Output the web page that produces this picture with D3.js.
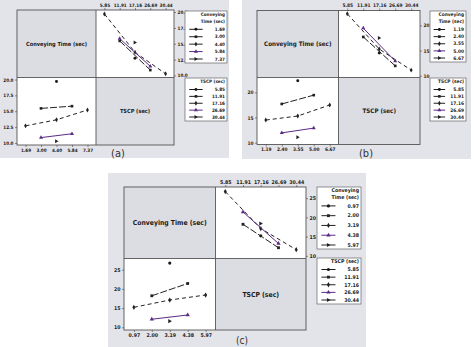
<!DOCTYPE html>
<html><head><meta charset="utf-8">
<script src="https://cdn.jsdelivr.net/npm/d3@7"></script>
<style>
html,body{margin:0;padding:0;background:#fff;}
svg{display:block;}
text{font-family:"DejaVu Sans Condensed","DejaVu Sans",sans-serif;}
</style></head>
<body>
<svg id="chart" width="474" height="347"></svg>
<script>
// ---------------- data ----------------
const tscpLevels = ["5.85", "11.91", "17.16", "26.69", "30.44"];
const ctLevelsA = ["1.69", "3.00", "4.40", "5.84", "7.37"];
const ctLevelsB = ["1.19", "2.40", "3.55", "5.00", "6.67"];
const ctLevelsC = ["0.97", "2.00", "3.19", "4.38", "5.97"];
// mean response: rows = TSCP level, columns = conveying time level (null = not run)
const meansA = [
  [null, null, 19.7, null, null],
  [null, 15.45, null, 15.8, null],
  [12.7, null, 13.65, null, 15.2],
  [null, 10.85, null, 11.45, null],
  [null, null, 10.27, null, null]
];
const meansB = [
  [null, null, 22.3, null, null],
  [null, 17.7, null, 19.45, null],
  [14.5, null, 15.3, null, 17.5],
  [null, 11.95, null, 12.9, null],
  [null, null, 11.1, null, null]
];
const meansC = [
  [null, null, 26.7, null, null],
  [null, 18.2, null, 21.4, null],
  [15.2, null, 17.1, null, 18.4],
  [null, 12.1, null, 13.2, null],
  [null, null, 11.6, null, null]
];
const yTicksA = [10, 12.5, 15, 17.5, 20];
const yTickLabelsA = ["10.0", "12.5", "15.0", "17.5", "20.0"];
const yTicksB = [10, 15, 20];
const yTickLabelsB = ["10", "15", "20"];
const yTicksC = [10, 15, 20, 25];
const yTickLabelsC = ["10", "15", "20", "25"];
const factorNames = ["Conveying Time (sec)", "TSCP (sec)"];
const legendTitleCT = ["Conveying", "Time (sec)"];
const legendTitleTSCP = ["TSCP (sec)"];
const panelLabels = ["(a)", "(b)", "(c)"];

// ---------------- styles ----------------
const seriesStyle = [
  {sym: d3.symbolCircle, color: "#1a1a1a", dash: null},
  {sym: d3.symbolSquare, color: "#222222", dash: "7,2"},
  {sym: d3.symbolDiamond, color: "#222222", dash: "4,3"},
  {sym: d3.symbolTriangle, color: "#5b2a86", dash: null},
  {sym: "right", color: "#222222", dash: "3,2"}
];
function markerPath(s, size) {
  if (s === "right") {
    const r = Math.sqrt(size) * 0.75;
    return `M${-r * 0.7},${-r}L${r},0L${-r * 0.7},${r}Z`;
  }
  return d3.symbol().type(s).size(size)();
}

const svg = d3.select("#chart");

const layouts = [
  {outer: [0, 0, 229, 158], x0: 17, x1: 174, y0: 10, y1: 145, mx: 96, my: 77.5,
   lx0: 185, lx1: 227, l1: [11, 63], l2: [78, 121], lab: [118, 153],
   tick: 4.6, title: 5.6, msize: 7},
  {outer: [242, 0, 471, 159], x0: 257, x1: 420, y0: 10.5, y1: 144.5, mx: 338.5, my: 77.5,
   lx0: 430, lx1: 466, l1: [11, 62], l2: [78, 121], lab: [366, 153],
   tick: 4.8, title: 6.2, msize: 7},
  {outer: [108, 173, 366, 347], x0: 124, x1: 306, y0: 187, y1: 330, mx: 215.5, my: 258.5,
   lx0: 317, lx1: 361, l1: [187, 249], l2: [258, 304], lab: [242, 340],
   tick: 5.2, title: 6.8, msize: 8}
];
const panels = [
  {ct: ctLevelsA, means: meansA, yt: yTicksA, yl: yTickLabelsA, dom: [9.68, 20.32]},
  {ct: ctLevelsB, means: meansB, yt: yTicksB, yl: yTickLabelsB, dom: [9.64, 22.96]},
  {ct: ctLevelsC, means: meansC, yt: yTicksC, yl: yTickLabelsC, dom: [9.3, 27.9]}
];

function drawSeries(g, pts, x, y, st, msize) {
  const line = d3.line().x(d => x(d.k)).y(d => y(d.v));
  if (pts.length > 1) {
    g.append("path").attr("d", line(pts)).attr("fill", "none")
      .attr("stroke", st.color).attr("stroke-width", 1)
      .attr("stroke-dasharray", st.dash);
  }
  pts.forEach(p => {
    g.append("path").attr("d", markerPath(st.sym, msize))
      .attr("transform", `translate(${x(p.k)},${y(p.v)})`)
      .attr("fill", st.color);
  });
}

function styleAxis(a, fs) {
  a.select(".domain").remove();
  a.selectAll("line").attr("stroke", "#444").attr("stroke-width", 0.6);
  a.selectAll("text").attr("font-size", fs).attr("font-weight", "bold").attr("fill", "#222")
    .attr("font-family", '"DejaVu Sans Condensed","DejaVu Sans",sans-serif');
}

function drawLegend(g, L, yr, titleLines, labels) {
  const [ya, yb] = yr;
  g.append("rect").attr("x", L.lx0).attr("y", ya).attr("width", L.lx1 - L.lx0)
    .attr("height", yb - ya).attr("fill", "#fff").attr("stroke", "#666").attr("stroke-width", 0.7);
  const fs = L.tick;
  titleLines.forEach((t, i) => {
    g.append("text").attr("x", L.lx1 - 2).attr("y", ya + 5 + i * (fs + 2.2))
      .attr("text-anchor", "end").attr("font-size", fs).attr("font-weight", "bold")
      .attr("fill", "#222").text(t);
  });
  const top = ya + 5 + (titleLines.length - 1) * (fs + 2.2) + 6.5;
  const step = (yb - 4 - top) / (labels.length - 1);
  const w = L.lx1 - L.lx0;
  labels.forEach((lab, i) => {
    const yy = top + i * step;
    const st = seriesStyle[i];
    const sx0 = L.lx0 + w * 0.1, sx1 = L.lx0 + w * 0.42;
    g.append("line").attr("x1", sx0).attr("x2", sx1).attr("y1", yy).attr("y2", yy)
      .attr("stroke", st.color).attr("stroke-width", 1);
    g.append("path").attr("d", markerPath(st.sym, L.msize))
      .attr("transform", `translate(${(sx0 + sx1) / 2},${yy})`).attr("fill", st.color);
    g.append("text").attr("x", L.lx1 - 2).attr("y", yy).attr("dy", "0.35em")
      .attr("text-anchor", "end").attr("font-size", fs).attr("font-weight", "bold")
      .attr("fill", "#222").text(lab);
  });
}

panels.forEach((P, pi) => {
  const L = layouts[pi];
  const g = svg.append("g");
  const [ox0, oy0, ox1, oy1] = L.outer;
  g.append("rect").attr("x", ox0).attr("y", oy0).attr("width", ox1 - ox0).attr("height", oy1 - oy0)
    .attr("fill", "#e3e3ea");
  // cells
  g.append("rect").attr("x", L.x0).attr("y", L.y0).attr("width", L.mx - L.x0).attr("height", L.my - L.y0)
    .attr("fill", "#dcdce3");
  g.append("rect").attr("x", L.mx).attr("y", L.my).attr("width", L.x1 - L.mx).attr("height", L.y1 - L.my)
    .attr("fill", "#dcdce3");
  g.append("rect").attr("x", L.mx).attr("y", L.y0).attr("width", L.x1 - L.mx).attr("height", L.my - L.y0)
    .attr("fill", "#fff");
  g.append("rect").attr("x", L.x0).attr("y", L.my).attr("width", L.mx - L.x0).attr("height", L.y1 - L.my)
    .attr("fill", "#fff");

  // scales
  const xBL = d3.scalePoint().domain(P.ct).range([L.x0, L.mx]).padding(0.55);
  const yBL = d3.scaleLinear().domain(P.dom).range([L.y1, L.my]);
  const xTR = d3.scalePoint().domain(tscpLevels).range([L.mx, L.x1]).padding(0.55);
  const yTR = d3.scaleLinear().domain(P.dom).range([L.my, L.y0]);

  // bottom-left: response vs conveying time, one line per TSCP level
  P.means.forEach((row, i) => {
    const pts = P.ct.map((c, j) => ({k: c, v: row[j]})).filter(d => d.v !== null);
    drawSeries(g, pts, xBL, yBL, seriesStyle[i], L.msize);
  });
  // top-right: response vs TSCP, one line per conveying time level
  P.ct.forEach((c, j) => {
    const pts = tscpLevels.map((t, i) => ({k: t, v: P.means[i][j]})).filter(d => d.v !== null);
    drawSeries(g, pts, xTR, yTR, seriesStyle[j], L.msize);
  });

  // frame
  g.append("rect").attr("x", L.x0).attr("y", L.y0).attr("width", L.x1 - L.x0).attr("height", L.y1 - L.y0)
    .attr("fill", "none").attr("stroke", "#555").attr("stroke-width", 0.9);
  g.append("line").attr("x1", L.mx).attr("x2", L.mx).attr("y1", L.y0).attr("y2", L.y1)
    .attr("stroke", "#555").attr("stroke-width", 0.9);
  g.append("line").attr("x1", L.x0).attr("x2", L.x1).attr("y1", L.my).attr("y2", L.my)
    .attr("stroke", "#555").attr("stroke-width", 0.9);

  // axes
  const ts = 2;
  const aB = g.append("g").attr("transform", `translate(0,${L.y1})`)
    .call(d3.axisBottom(xBL).tickSize(ts).tickPadding(1.5));
  styleAxis(aB, L.tick);
  const aL = g.append("g").attr("transform", `translate(${L.x0},0)`)
    .call(d3.axisLeft(yBL).tickValues(P.yt).tickFormat((d, i) => P.yl[i]).tickSize(ts).tickPadding(1.5));
  styleAxis(aL, L.tick);
  const aT = g.append("g").attr("transform", `translate(0,${L.y0})`)
    .call(d3.axisTop(xTR).tickSize(ts).tickPadding(1.5));
  styleAxis(aT, L.tick);
  const aR = g.append("g").attr("transform", `translate(${L.x1},0)`)
    .call(d3.axisRight(yTR).tickValues(P.yt).tickFormat((d, i) => P.yl[i]).tickSize(ts).tickPadding(1.5));
  styleAxis(aR, L.tick);

  // factor names on diagonal
  g.append("text").attr("x", (L.x0 + L.mx) / 2).attr("y", (L.y0 + L.my) / 2).attr("dy", "0.35em")
    .attr("text-anchor", "middle").attr("font-size", L.title).attr("font-weight", "bold")
    .attr("fill", "#1a1a1a").text(factorNames[0]);
  g.append("text").attr("x", (L.mx + L.x1) / 2).attr("y", (L.my + L.y1) / 2).attr("dy", "0.35em")
    .attr("text-anchor", "middle").attr("font-size", L.title).attr("font-weight", "bold")
    .attr("fill", "#1a1a1a").text(factorNames[1]);

  // legends
  drawLegend(g, L, L.l1, legendTitleCT, P.ct);
  drawLegend(g, L, L.l2, legendTitleTSCP, tscpLevels);

  // panel label
  g.append("text").attr("x", L.lab[0]).attr("y", L.lab[1]).attr("dy", "0.35em")
    .attr("text-anchor", "middle").attr("font-size", pi === 2 ? 10 : 11).attr("fill", "#333")
    .attr("font-family", '"Liberation Sans",Arial,sans-serif').text(panelLabels[pi]);
});
</script>
</body></html>
